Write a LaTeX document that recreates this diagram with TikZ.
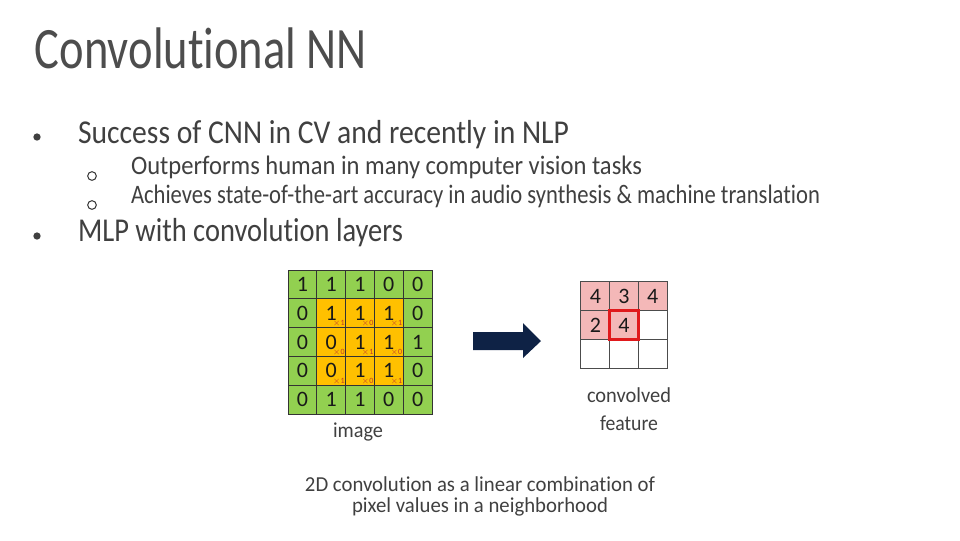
\documentclass[tikz,border=0pt]{standalone}
\usepackage{fontspec}
\setmainfont{Carlito}[Ligatures=NoCommon]
\usepackage{graphicx}
\definecolor{txt}{HTML}{404040}
\definecolor{ttl}{HTML}{4D4D4D}
\definecolor{grn}{HTML}{92D050}
\definecolor{orng}{HTML}{FFC000}
\definecolor{pnk}{HTML}{F4B8B8}
\definecolor{hired}{HTML}{E0191C}
\definecolor{navy}{HTML}{0E2245}
\definecolor{mult}{HTML}{C0392B}
\newlength\px \setlength\px{0.75pt}
\newcommand\fitw[3]{\resizebox{#1\px}{\height}{\fontsize{#2}{#2}\selectfont #3}}
\begin{document}
\begin{tikzpicture}[x=0.75pt,y=-0.75pt,
  lbl/.style={inner sep=0,outer sep=0,anchor=base west,text=txt},
  clbl/.style={inner sep=0,outer sep=0,anchor=base,text=txt},
  cell/.style={draw=black!80,line width=0.75pt,minimum size=21.6pt,inner sep=0,outer sep=0,
    font=\fontsize{16.5pt}{16.5pt}\selectfont,text=black!90},
  mul/.style={inner sep=0,outer sep=0,text=mult,font=\fontsize{6pt}{6pt}\selectfont},
  bul/.style={circle,fill=txt,inner sep=0,minimum size=5.5pt},
  subbul/.style={circle,draw=txt,line width=0.8pt,inner sep=0,minimum size=6.5pt}]
\useasboundingbox (0,0) rectangle (960,540);

\node[lbl,text=ttl] (title) at (35,68) {\fitw{332}{44pt}{Convolutional NN}};

\node[bul] (b1) at (37,137) {};
\node[lbl] (t1) at (78,143) {\fitw{491}{25pt}{Success of CNN in CV and recently in NLP}};
\node[subbul] (b2) at (92,176) {};
\node[lbl] (t2) at (131,174) {\fitw{511}{20pt}{Outperforms human in many computer vision tasks}};
\node[subbul] (b3) at (92,205) {};
\node[lbl] (t3) at (131,203) {\fitw{689}{20pt}{Achieves state-of-the-art accuracy in audio synthesis \& machine translation}};
\node[bul] (b4) at (37,236) {};
\node[lbl] (t4) at (78,241) {\fitw{325}{25pt}{MLP with convolution layers}};

% image grid
\foreach \row [count=\r from 0] in {{1,1,1,0,0},{0,1,1,1,0},{0,0,1,1,1},{0,0,1,1,0},{0,1,1,0,0}}{
  \foreach \v [count=\c from 0] in \row {
    \pgfmathtruncatemacro\inner{(\r>0)&&(\r<4)&&(\c>0)&&(\c<4)}
    \ifnum\inner=1 \def\fc{orng}\else\def\fc{grn}\fi
    \node[cell,fill=\fc] (img\r\c) at (288+\c*28.8+14.4,270+\r*28.8+14.4) {\v};
  }
}
% kernel weights
\foreach \r in {1,2,3}{
  \foreach \c in {1,2,3}{
    \pgfmathtruncatemacro\k{mod(\r+\c+1,2)}
    \node[mul] (k\r\c) at (288+\c*28.8+22,270+\r*28.8+25) {$\times$\k};
  }
}

% output grid
\foreach \row [count=\r from 0] in {{4,3,4},{2,4,{}},{{},{},{}}}{
  \foreach \v [count=\c from 0] in \row {
    \pgfmathtruncatemacro\pk{(\r==0)||((\r==1)&&(\c<2))}
    \ifnum\pk=1 \def\fc{pnk}\else\def\fc{white}\fi
    \node[cell,draw=black!70,fill=\fc] (out\r\c) at (581+\c*28.7+14.35,282+\r*28.7+14.35) {\v};
  }
}
\draw[hired,line width=2.3pt] (out11.north west) rectangle (out11.south east);

% arrow
\fill[navy] (473,332) -- (523,332) -- (523,323) -- (541,341) -- (523,358) -- (523,350) -- (473,350) -- cycle;

\node[clbl] (lim) at (358,437) {\fitw{50}{16pt}{image}};
\node[clbl] (lcv) at (629,402) {\fitw{84}{16pt}{convolved}};
\node[clbl] (lft) at (629,430) {\fitw{58}{16pt}{feature}};
\node[clbl] (bt1) at (480,491) {\fitw{350}{16pt}{2D convolution as a linear combination of}};
\node[clbl] (bt2) at (480,512) {\fitw{256}{16pt}{pixel values in a neighborhood}};
\end{tikzpicture}
\end{document}
